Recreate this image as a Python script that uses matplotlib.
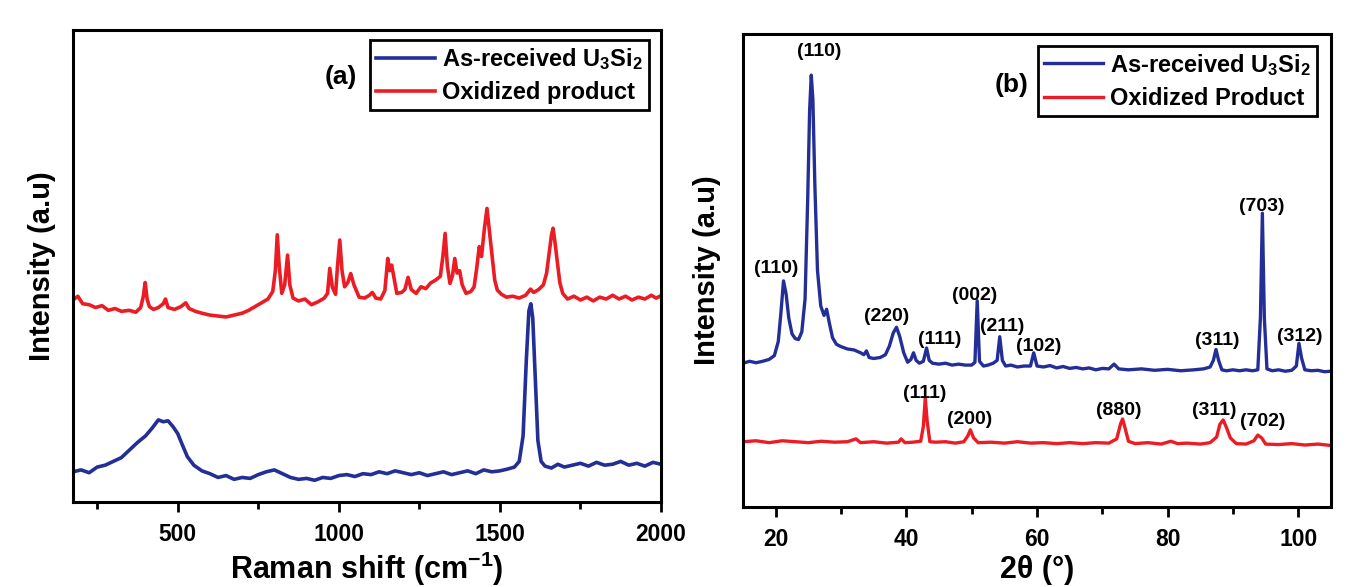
import matplotlib
matplotlib.use("Agg")
import matplotlib.pyplot as plt
from matplotlib.ticker import MultipleLocator

plt.rcParams["font.family"] = ["Liberation Sans", "DejaVu Sans"]
plt.rcParams["font.weight"] = "bold"
plt.rcParams["axes.labelweight"] = "bold"
plt.rcParams["mathtext.fontset"] = "custom"
plt.rcParams["mathtext.rm"] = "Liberation Sans:bold"
plt.rcParams["mathtext.bf"] = "Liberation Sans:bold"
plt.rcParams["mathtext.default"] = "bf"

# ---- (a) Raman spectra, intensity in % of panel height ----
raman_blue_x = [175, 200, 225, 250, 275, 300, 325, 350, 375, 400, 420, 440, 455, 470, 485,
                500, 515, 530, 550, 575, 600, 625, 650, 675, 700, 725, 750, 775, 800, 825,
                850, 875, 900, 925, 950, 975, 1000, 1025, 1050, 1075, 1100, 1125, 1150, 1175,
                1200, 1225, 1250, 1275, 1300, 1325, 1350, 1375, 1400, 1425, 1450, 1475, 1500,
                1525, 1545, 1560, 1572, 1582, 1590, 1596, 1602, 1610, 1618, 1628, 1640, 1660,
                1680, 1700, 1725, 1750, 1775, 1800, 1825, 1850, 1875, 1900, 1925, 1950, 1975, 2000]
raman_blue_y = [6.4, 6.8, 6.2, 7.4, 7.8, 8.6, 9.4, 11.0, 12.6, 14.0, 15.6, 17.4, 17.0, 17.2, 16.0,
                14.5, 12.0, 9.6, 7.8, 6.6, 6.0, 5.2, 5.6, 4.8, 5.2, 5.0, 5.8, 6.4, 6.8, 6.0,
                5.2, 4.8, 5.0, 4.6, 5.2, 5.0, 5.6, 5.8, 5.4, 6.0, 5.8, 6.4, 6.0, 6.6,
                6.2, 5.8, 6.2, 5.6, 6.0, 6.4, 5.8, 6.2, 6.6, 6.0, 6.8, 6.4, 6.6,
                7.0, 7.4, 8.6, 14.0, 30.0, 40.5, 42.0, 39.0, 26.0, 13.0, 8.6, 7.6, 7.2,
                8.0, 7.4, 7.8, 8.2, 7.6, 8.4, 7.8, 8.0, 8.6, 7.8, 8.2, 7.6, 8.4, 8.0]

raman_red_x = [175, 190, 205, 225, 245, 265, 285, 305, 325, 350, 370, 385, 393, 399, 405, 412,
               425, 440, 455, 462, 470, 490, 510, 525, 535, 555, 575, 600, 625, 650, 675, 700,
               720, 740, 760, 780, 795, 803, 809, 815, 823, 832, 841, 848, 858, 875, 895, 915,
               935, 955, 965, 972, 980, 990, 996, 1003, 1010, 1018, 1028, 1037, 1047, 1063,
               1080, 1095, 1104, 1115, 1130, 1143, 1152, 1158, 1164, 1170, 1180, 1195, 1205,
               1215, 1225, 1240, 1255, 1270, 1285, 1300, 1315, 1323, 1330, 1337, 1345, 1353,
               1360, 1367, 1375, 1383, 1395, 1410, 1420, 1428, 1436, 1443, 1452, 1460, 1468,
               1476, 1484, 1492, 1505, 1520, 1540, 1560, 1580, 1595, 1605, 1620, 1635, 1645,
               1653, 1660, 1665, 1671, 1678, 1686, 1695, 1710, 1730, 1750, 1770, 1790, 1810,
               1830, 1850, 1870, 1890, 1910, 1930, 1950, 1970, 1985, 2000]
raman_red_y = [42.8, 43.6, 42.0, 41.8, 41.2, 41.6, 40.6, 41.0, 40.4, 40.6, 40.2, 41.2, 43.5, 46.5, 43.0, 41.4,
               40.8, 41.2, 42.0, 43.0, 41.2, 40.8, 41.4, 42.2, 41.0, 40.4, 40.0, 39.6, 39.4, 39.2, 39.6, 40.0,
               40.6, 41.4, 42.2, 43.0, 44.6, 49.0, 56.6, 50.0, 44.2, 46.0, 52.3, 46.0, 43.2, 42.6, 43.0, 41.8,
               42.4, 43.2, 44.2, 49.5, 45.5, 44.0, 50.0, 55.5, 49.0, 45.6, 46.5, 48.4, 46.0, 43.4,
               43.2, 43.8, 44.4, 43.2, 43.0, 44.8, 51.6, 49.0, 50.2, 48.0, 44.2, 44.4, 45.0,
               47.6, 45.0, 44.2, 45.6, 45.2, 46.4, 47.0, 47.8, 52.0, 56.9, 50.0, 46.3, 48.0,
               51.6, 48.5, 49.0, 46.0, 44.2, 44.6, 45.6, 49.5, 54.1, 52.0, 58.0, 62.2, 57.0,
               52.0, 47.0, 44.9, 44.0, 43.4, 43.6, 43.2, 43.8, 45.1, 44.4, 45.0, 46.0, 48.5,
               52.7, 56.5, 58.0, 55.0, 51.0, 46.5, 44.2, 43.0, 43.6, 42.8, 43.4, 42.6, 43.4,
               43.0, 43.8, 43.0, 43.6, 42.8, 43.4, 43.0, 43.8, 43.2, 43.7]

# ---- (b) XRD patterns, intensity in % of panel height ----
xrd_blue_x = [15, 16, 17, 18, 19, 19.8, 20.4, 20.8, 21.2, 21.6, 22.0, 22.5, 23.0, 23.5, 24.0, 24.5,
              24.9, 25.2, 25.45, 25.7, 26.0, 26.4, 26.9, 27.4, 27.8, 28.2, 28.7, 29.3, 30, 31, 32,
              33, 33.5, 33.9, 34.3, 35, 36, 36.8, 37.4, 38.0, 38.5, 39.0, 39.6, 40.2, 40.7, 41.1,
              41.5, 42.0, 42.6, 43.1, 43.5, 44, 45, 46, 47, 48, 49, 50.0, 50.5, 50.85, 51.2, 51.8,
              52.5, 53.3, 53.9, 54.3, 54.7, 55.2, 56, 57, 58, 59.0, 59.5, 60.0, 61, 62, 63, 64, 65,
              66, 67, 68, 69, 70, 71, 71.8, 72.5, 74, 76, 78, 80, 82, 84, 85.5, 86.5, 87.0, 87.4,
              87.8, 88.3, 89, 90, 91, 92, 93, 93.8, 94.2, 94.5, 94.8, 95.2, 96, 97, 98, 99, 99.7,
              100.1, 100.5, 101.0, 102, 103, 104, 105]
xrd_blue_y = [30.4, 30.8, 30.5, 30.8, 31.2, 32.0, 35.0, 41.0, 47.8, 45.0, 40.0, 36.6, 35.6, 35.4, 37.0, 44.0,
              65.0, 84.0, 91.3, 86.0, 68.0, 50.0, 42.5, 40.5, 41.8, 39.0, 35.8, 34.4, 33.9, 33.4, 33.2,
              32.6, 32.2, 33.0, 31.6, 31.4, 31.6, 32.2, 34.0, 36.8, 38.0, 36.0, 32.6, 30.6, 31.2, 32.6,
              31.0, 30.4, 30.8, 33.6, 31.0, 30.4, 30.2, 30.4, 30.0, 30.2, 30.0, 30.0, 30.6, 43.6, 30.8, 29.8,
              30.0, 30.4, 31.0, 36.0, 31.0, 29.8, 30.0, 29.6, 29.8, 29.8, 32.6, 29.8, 29.6, 29.9, 29.4, 29.7, 29.3,
              29.5, 29.2, 29.4, 29.0, 29.3, 29.2, 30.2, 29.2, 29.0, 29.2, 28.9, 29.1, 28.8, 29.0, 29.2, 29.6, 31.0, 33.3,
              31.0, 29.0, 28.8, 29.0, 28.8, 29.0, 28.8, 29.0, 40.0, 62.1, 40.0, 29.2, 28.8, 29.0, 28.7, 28.9, 29.8,
              34.6, 31.5, 29.0, 28.8, 28.9, 28.6, 28.7]

xrd_red_x = [15, 17, 19, 21, 23, 25, 27, 29, 31, 32.3, 33, 35, 37, 38.8, 39.2, 39.8, 41, 42.2, 42.6,
             42.9, 43.2, 43.6, 44.5, 46, 47.5, 48.8, 49.4, 49.8, 50.3, 51, 53, 55, 57, 59, 61, 63, 65,
             67, 69, 71, 72.2, 72.8, 73.1, 73.5, 74.0, 75, 77, 79, 80.5, 81.5, 83, 85, 86.5, 87.5,
             88.0, 88.5, 89.0, 89.6, 90.5, 92, 93.2, 93.8, 94.4, 95, 97, 99, 101, 103, 105]
xrd_red_y = [13.8, 14.0, 13.6, 14.0, 13.8, 13.6, 13.9, 13.7, 13.8, 14.4, 13.6, 13.8, 13.5, 13.7, 14.4, 13.6, 13.7, 13.9, 17.0,
             23.0, 18.0, 13.8, 13.7, 13.8, 13.5, 13.8, 15.0, 16.3, 14.6, 13.6, 13.7, 13.5, 13.8, 13.5, 13.6, 13.4, 13.6,
             13.4, 13.6, 13.5, 14.4, 17.6, 18.6, 16.6, 13.9, 13.4, 13.6, 13.3, 13.9, 13.4, 13.5, 13.3, 13.6, 14.8,
             17.5, 18.4, 16.8, 14.6, 13.4, 13.3, 14.0, 15.2, 14.6, 13.3, 13.2, 13.4, 13.1, 13.3, 13.0]

# peak indices and where their labels sit (2theta, % height)
hkl_text = ["(110)", "(110)", "(220)", "(111)", "(002)", "(211)", "(102)", "(311)", "(703)", "(312)",
            "(111)", "(200)", "(880)", "(311)", "(702)"]
hkl_x = [26.6, 20.1, 37.0, 45.1, 50.4, 54.7, 60.2, 87.6, 94.4, 100.2,
         42.8, 49.7, 72.5, 87.2, 94.5]
hkl_y = [96.4, 50.5, 40.2, 35.5, 44.8, 38.2, 33.9, 35.3, 63.5, 36.1,
         23.9, 18.4, 20.3, 20.3, 18.0]

blue = "#232f96"
red = "#ec1c24"

fig = plt.figure(figsize=(13.47, 5.87), dpi=100)
ax1 = fig.add_axes([0.0542, 0.1448, 0.4365, 0.8041])
ax2 = fig.add_axes([0.5516, 0.1363, 0.4365, 0.8058])

ax1.plot(raman_blue_x, raman_blue_y, color=blue, lw=2.6, label=r"As-received U$_3$Si$_2$")
ax1.plot(raman_red_x, raman_red_y, color=red, lw=2.6, label="Oxidized product")
ax1.set_xlim(175, 2000)
ax1.xaxis.set_major_locator(MultipleLocator(500))
ax1.xaxis.set_minor_locator(MultipleLocator(250))
ax1.set_xlabel(r"Raman shift (cm$^{-1}$)", fontsize=22, labelpad=3)
ax1.text(0.456, 0.90, "(a)", transform=ax1.transAxes, fontsize=19, ha="center", va="center")

ax2.plot(xrd_blue_x, xrd_blue_y, color=blue, lw=2.4, label=r"As-received U$_3$Si$_2$")
ax2.plot(xrd_red_x, xrd_red_y, color=red, lw=2.4, label="Oxidized Product")
ax2.set_xlim(15, 105)
ax2.xaxis.set_major_locator(MultipleLocator(20))
ax2.xaxis.set_minor_locator(MultipleLocator(10))
ax2.set_xlabel("2θ (°)", fontsize=22, labelpad=3)
ax2.text(0.456, 0.893, "(b)", transform=ax2.transAxes, fontsize=19, ha="center", va="center")
for t, x, y in zip(hkl_text, hkl_x, hkl_y):
    ax2.text(x, y, t, fontsize=14, ha="center", va="center")

legend_anchor = {ax1: (0.98, 0.979), ax2: (0.976, 0.975)}
label_pad = {ax1: 12, ax2: 16}
for ax in (ax1, ax2):
    ax.set_ylim(0, 100)
    ax.set_yticks([])
    ax.set_ylabel("Intensity (a.u)", fontsize=21, labelpad=label_pad[ax])
    for s in ax.spines.values():
        s.set_linewidth(2.2)
    ax.tick_params(axis="x", which="major", direction="out", length=7, width=2, labelsize=16.5, pad=8)
    ax.tick_params(axis="x", which="minor", direction="out", length=5, width=2)
    for lab in ax.get_xticklabels():
        lab.set_fontweight("bold")
    leg = ax.legend(loc="upper right", bbox_to_anchor=legend_anchor[ax], borderaxespad=0,
                    fontsize=17, fancybox=False, edgecolor="black", framealpha=1,
                    borderpad=0.25, handlelength=2.5, handletextpad=0.3, labelspacing=0.4)
    leg.get_frame().set_linewidth(2)

fig.savefig("out.png", dpi=100)
